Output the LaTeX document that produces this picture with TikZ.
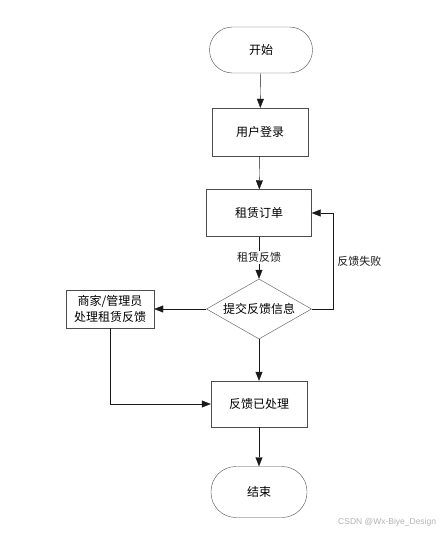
\documentclass[tikz,border=0pt]{standalone}
\usepackage{fontspec}
\newfontfamily\cjk{Noto Sans CJK SC}
\newfontfamily\wmfont{Liberation Sans}
\usetikzlibrary{arrows.meta,shapes.geometric}

\begin{document}
\begin{tikzpicture}[x=1pt, y=-1pt,
  term/.style={draw=black!70, rounded corners=23pt, minimum width=103pt, minimum height=46pt,
               font=\cjk\fontsize{12}{14}\selectfont},
  box/.style={draw=black!70, minimum width=96pt, minimum height=48pt,
              font=\cjk\fontsize{12}{14}\selectfont},
  dec/.style={draw=black!70, diamond, aspect=1.75, inner sep=0pt, minimum width=105pt,
              minimum height=60pt, font=\cjk\fontsize{12}{14}\selectfont},
  lbl/.style={font=\cjk\fontsize{11}{13}\selectfont, inner sep=1.5pt},
  arr/.style={-{Triangle[length=9pt, width=7pt]}, black!90}
]
\useasboundingbox (0,0) rectangle (445,533);
\node[term] (start) at (261,50) {开始};
\node[box] (login) at (260,132) {用户登录};
\node[box, minimum width=105pt, minimum height=47pt] (order) at (259,213) {租赁订单};
\node[dec] (ask) at (259,309) {提交反馈信息};
\node[box, minimum width=88pt, minimum height=38pt, align=center, inner sep=2pt,
      font=\cjk\fontsize{12}{16}\selectfont] (merchant) at (110,309) {商家/管理员\\处理租赁反馈};
\node[box, minimum height=46pt] (done) at (259,404) {反馈已处理};
\node[term, minimum width=96pt, minimum height=51pt, rounded corners=25pt] (stop) at (259,492) {结束};
\node[font=\wmfont\fontsize{8.5}{10}\selectfont, text=black!30, anchor=west, inner sep=0pt]
  (mark) at (338,522) {CSDN @Wx-Biye\_Design};
\draw[arr] (start) -- (login);
\draw[arr] (login) -- (order);
\draw[arr] (order) -- node[lbl, fill=white] {租赁反馈} (ask);
\draw[arr] (ask.east) -- ++(21,0) |- node[lbl, pos=0.25, right=3pt] {反馈失败} (order.east);
\draw[arr] (ask.west) -- (merchant.east);
\draw[arr] (ask.south) -- (done.north);
\draw[arr] (merchant.south) |- (done.west);
\draw[arr] (done) -- (stop);
\end{tikzpicture}
\end{document}
